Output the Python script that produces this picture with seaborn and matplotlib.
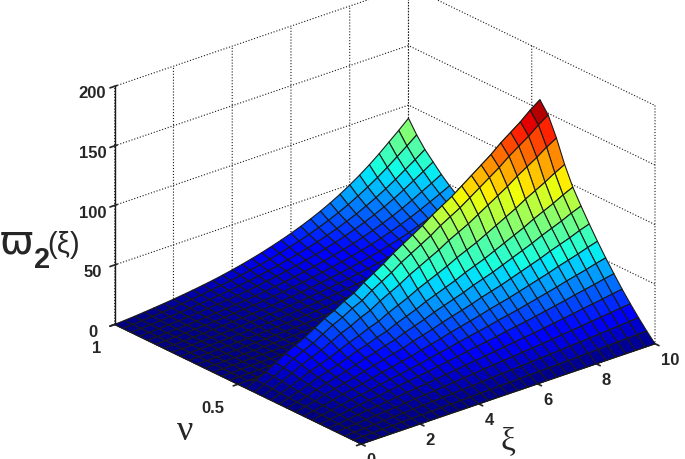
import numpy as np
import matplotlib
matplotlib.use("Agg")
import matplotlib.pyplot as plt
import seaborn as sns

# grid of the surface (xi along one floor axis, nu along the other)
xi = np.linspace(0, 10, 31)
nu = np.linspace(0, 1, 31)

# crest height of the front sheet (nu just below 0.5) for each xi
ridge_height = [0, 4, 8, 13, 18, 22, 26, 31, 36, 40, 45, 49, 55, 60, 65, 71,
                76, 81, 86, 92, 97, 102, 108, 114, 120, 126, 133, 139, 145, 152, 158]
# height of the back sheet along the nu = 1 edge for each xi
edge_height = [0, 0.6, 1.2, 1.9, 2.7, 3.5, 4.4, 5.4, 6.5, 7.7, 9.0, 10.5, 12.2,
               14.0, 16.0, 18.2, 20.6, 23.2, 26.0, 29.1, 32.5, 36.2, 40.3, 44.8,
               49.8, 55.2, 61.1, 67.6, 74.6, 81.6, 89.0]
# shape across nu, relative to the values above
front_profile = [0, .046, .096, .149, .205, .266, .329, .396, .467, .541, .62,
                 .72, .84, .94, 1.0]
back_profile = [.18, .20, .22, .25, .28, .31, .35, .39, .44, .49, .55, .62, .70, .78, .88, 1.0]

xi_ticks = [0, 2, 4, 6, 8, 10]
nu_ticks = [0, 0.5, 1]
nu_labels = ["0", "0.5", "1"]
z_ticks = [0, 50, 100, 150, 200]

Z = np.vstack([np.outer(front_profile, ridge_height),
               np.outer(back_profile, edge_height)])
X, Y = np.meshgrid(xi, nu)

sns.set_theme(style="white")
plt.rcParams["font.family"] = ["Liberation Sans", "DejaVu Sans"]
plt.rcParams["font.weight"] = "bold"

fig = plt.figure(figsize=(6.85, 4.6), dpi=100)
# axes larger than the figure so the box fills it like the original
ax = fig.add_axes([-0.0847, -0.1217, 1.27, 1.27], projection="3d", proj_type="ortho")
ax.plot_surface(X, Y, Z, cmap="jet", vmin=0, vmax=Z.max(), rstride=1, cstride=1,
                edgecolor="k", linewidth=0.8, antialiased=True)

ax.view_init(elev=24, azim=-130)
ax.set_box_aspect((1, 1, 0.68))
ax.set_xlim(0, 10)
ax.set_ylim(0, 1)
ax.set_zlim(0, 200)
ax.set_xticks(xi_ticks)
ax.set_yticks(nu_ticks, labels=nu_labels)
ax.set_zticks(z_ticks)
ax.tick_params(labelsize=12)
ax.tick_params(axis="x", pad=-3)
ax.tick_params(axis="y", pad=2)
ax.tick_params(axis="z", pad=1)
for t in ax.get_xticklabels():
    t.set_horizontalalignment("left")
for t in ax.get_yticklabels():
    t.set_horizontalalignment("right")

for axis in (ax.xaxis, ax.yaxis, ax.zaxis):
    axis.set_pane_color((1, 1, 1, 0))
    axis.pane.set_edgecolor((1, 1, 1, 0))
    axis.line.set_color("k")
    axis.line.set_linewidth(1)
    axis._axinfo["grid"].update(color="k", linestyle=":", linewidth=0.8)
    axis._axinfo["tick"]["color"] = "k"

fig.text(508 / 685, 1 - 442 / 460, "ξ", fontsize=24, family="Liberation Serif",
         weight="normal", ha="center", va="center")
fig.text(185 / 685, 1 - 432 / 460, "ν", fontsize=26, family="Liberation Serif",
         weight="normal", ha="center", va="center")
# vertical axis title: varpi, subscript 2, (xi)
fig.text(0, 1 - 253 / 460, "ϖ", fontsize=29, family=["DejaVu Sans"],
         weight="normal", ha="left", va="baseline")
fig.text(34 / 685, 1 - 268 / 460, "2", fontsize=21, ha="left", va="baseline")
fig.text(47 / 685, 1 - 253 / 460, "(ξ)", fontsize=21, weight="normal",
         ha="left", va="baseline")

fig.savefig("out.png", dpi=100)
